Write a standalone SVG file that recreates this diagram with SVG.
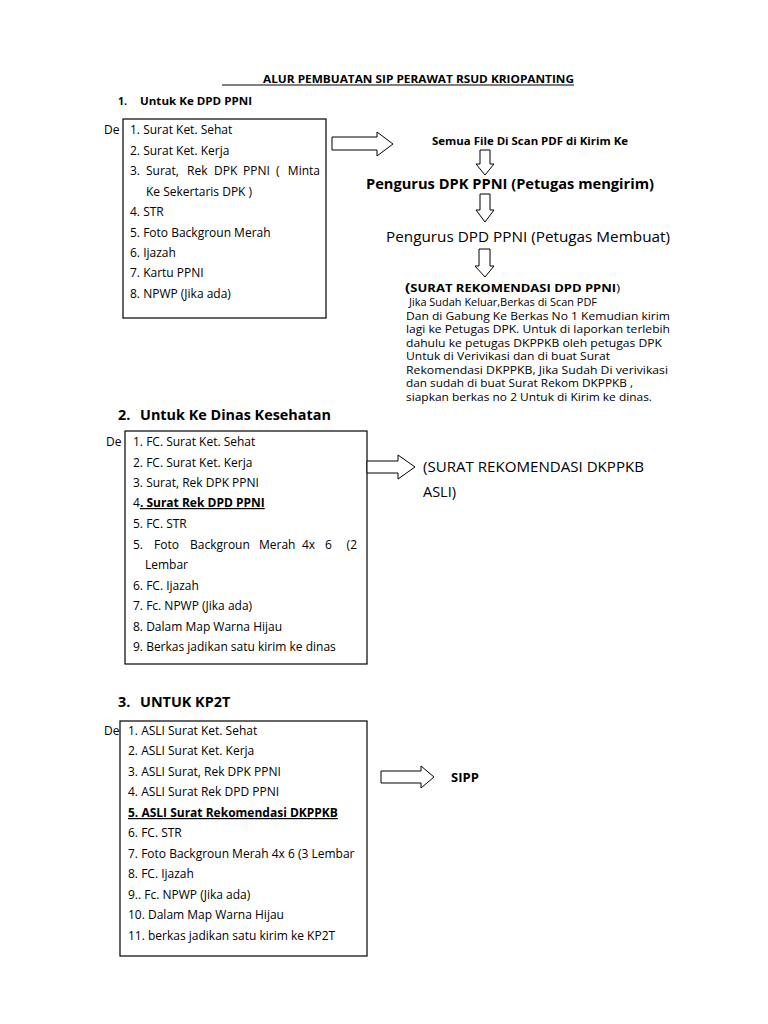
<svg xmlns="http://www.w3.org/2000/svg" width="768" height="1024" viewBox="0 0 768 1024">
<style>
text{font-family:"Open Sans","Liberation Sans",sans-serif;fill:#000}
.b{font-weight:bold}
.it{font-size:12px}
.p{font-size:11px}
.box{fill:#fff;stroke:#000;stroke-width:1.2}
.arr{fill:#fff;stroke:#000;stroke-width:1}
</style>
<rect width="768" height="1024" fill="#fff"/>
<g id="title">
<text x="263" y="83" class="b" font-size="10.5" textLength="311" lengthAdjust="spacingAndGlyphs">ALUR PEMBUATAN SIP PERAWAT RSUD KRIOPANTING</text>
<line x1="222" y1="85" x2="574" y2="85" stroke="#000" stroke-width="1"/>
</g>
<g id="h1">
<text x="118" y="105" class="b" font-size="10.5">1.</text>
<text x="140" y="105" class="b" font-size="10.5" textLength="112" lengthAdjust="spacingAndGlyphs">Untuk Ke DPD PPNI</text>
</g>
<g id="box1">
<text x="104" y="134" class="it">De</text>
<rect class="box" x="123" y="119" width="203" height="199"/>
<text x="130" y="134" class="it">1. Surat Ket. Sehat</text>
<text x="130" y="155" class="it">2. Surat Ket. Kerja</text>
<text y="175" class="it"><tspan x="130">3.</tspan><tspan x="146">Surat,</tspan><tspan x="187">Rek</tspan><tspan x="214">DPK</tspan><tspan x="243">PPNI</tspan><tspan x="276">(</tspan></text>
<text x="320" y="175" class="it" text-anchor="end">Minta</text>
<text x="146" y="196" class="it">Ke Sekertaris DPK )</text>
<text x="130" y="216" class="it">4. STR</text>
<text x="130" y="237" class="it">5. Foto Backgroun Merah</text>
<text x="130" y="257" class="it">6. Ijazah</text>
<text x="130" y="277" class="it">7. Kartu PPNI</text>
<text x="130" y="298" class="it">8. NPWP (Jika ada)</text>
</g>
<g id="flow1">
<text x="432" y="145" class="b" font-size="10" textLength="196" lengthAdjust="spacingAndGlyphs">Semua File Di Scan PDF di Kirim Ke</text>
<text x="366" y="189" class="b" font-size="14" textLength="288" lengthAdjust="spacingAndGlyphs">Pengurus DPK PPNI (Petugas mengirim)</text>
<text x="386" y="242" font-size="14" textLength="284" lengthAdjust="spacingAndGlyphs">Pengurus DPD PPNI (Petugas Membuat)</text>
</g>
<g id="note1">
<text x="405" y="292" class="b" font-size="10.3" textLength="215" lengthAdjust="spacingAndGlyphs"><tspan font-size="12.5">(</tspan>SURAT REKOMENDASI DPD PPNI<tspan font-weight="normal">)</tspan></text>
<text x="409" y="306" class="p" textLength="188" lengthAdjust="spacingAndGlyphs">Jika Sudah Keluar,Berkas di Scan PDF</text>
<text x="406" y="320" class="p" textLength="264" lengthAdjust="spacingAndGlyphs">Dan di  Gabung Ke Berkas No 1 Kemudian kirim</text>
<text x="406" y="333" class="p" textLength="264" lengthAdjust="spacingAndGlyphs">lagi ke Petugas DPK. Untuk di laporkan terlebih</text>
<text x="406" y="347" class="p" textLength="256" lengthAdjust="spacingAndGlyphs">dahulu ke petugas DKPPKB oleh petugas  DPK</text>
<text x="406" y="360" class="p" textLength="204" lengthAdjust="spacingAndGlyphs">Untuk di Verivikasi dan di buat Surat</text>
<text x="406" y="374" class="p" textLength="262" lengthAdjust="spacingAndGlyphs">Rekomendasi DKPPKB, Jika Sudah Di verivikasi</text>
<text x="406" y="387" class="p" textLength="227" lengthAdjust="spacingAndGlyphs">dan sudah di buat Surat Rekom DKPPKB  ,</text>
<text x="406" y="401" class="p" textLength="246" lengthAdjust="spacingAndGlyphs">siapkan berkas no 2 Untuk di Kirim ke dinas.</text>
</g>
<g id="h2">
<text x="118" y="420" class="b" font-size="14.4">2.</text>
<text x="140" y="420" class="b" font-size="14.4">Untuk Ke Dinas Kesehatan</text>
</g>
<g id="box2">
<text x="106" y="446" class="it">De</text>
<rect class="box" x="125" y="431" width="242" height="233"/>
<text x="133" y="446" class="it">1. FC. Surat Ket. Sehat</text>
<text x="133" y="467" class="it">2. FC. Surat Ket. Kerja</text>
<text x="133" y="487" class="it">3. Surat, Rek DPK PPNI</text>
<text x="133" y="507" class="it">4<tspan class="b" text-decoration="underline">. Surat Rek DPD PPNI</tspan></text>
<text x="133" y="528" class="it">5. FC. STR</text>
<text y="549" class="it"><tspan x="133">5.</tspan><tspan x="154">Foto</tspan><tspan x="190">Backgroun</tspan><tspan x="259">Merah</tspan><tspan x="302">4x</tspan><tspan x="325">6</tspan></text>
<text x="357" y="549" class="it" text-anchor="end">(2</text>
<text x="145" y="569" class="it">Lembar</text>
<text x="133" y="590" class="it">6. FC. Ijazah</text>
<text x="133" y="610" class="it">7. Fc. NPWP (Jika ada)</text>
<text x="133" y="631" class="it">8. Dalam Map Warna Hijau</text>
<text x="133" y="651" class="it">9. Berkas jadikan satu kirim ke dinas</text>
</g>
<g id="res2">
<text x="423" y="472" font-size="14.5" textLength="221" lengthAdjust="spacingAndGlyphs">(SURAT REKOMENDASI DKPPKB</text>
<text x="423" y="497" font-size="14.5">ASLI)</text>
</g>
<g id="h3">
<text x="118" y="707" class="b" font-size="14.4">3.</text>
<text x="140" y="707" class="b" font-size="14.4">UNTUK KP2T</text>
</g>
<g id="box3">
<text x="104" y="735" class="it">De</text>
<rect class="box" x="120" y="721" width="247" height="235"/>
<text x="128" y="735" class="it">1. ASLI Surat Ket. Sehat</text>
<text x="128" y="755" class="it">2. ASLI Surat Ket. Kerja</text>
<text x="128" y="776" class="it">3. ASLI Surat, Rek DPK PPNI</text>
<text x="128" y="796" class="it">4. ASLI Surat Rek DPD PPNI</text>
<text x="128" y="817" class="it b" text-decoration="underline">5. ASLI Surat Rekomendasi DKPPKB</text>
<text x="128" y="837" class="it">6. FC. STR</text>
<text x="128" y="858" class="it">7. Foto Backgroun Merah 4x 6 (3 Lembar</text>
<text x="128" y="878" class="it">8. FC. Ijazah</text>
<text x="128" y="899" class="it">9.. Fc. NPWP (Jika ada)</text>
<text x="128" y="919" class="it">10. Dalam Map Warna Hijau</text>
<text x="128" y="940" class="it">11. berkas jadikan satu kirim ke KP2T</text>
</g>
<g id="res3">
<text x="451" y="782" class="b" font-size="13">SIPP</text>
</g>
<g id="connectors">
<polygon class="arr" points="332,137 377,137 377,132 393,144 377,156 377,150 332,150"/>
<polygon class="arr" points="480,150 490,150 490,164 494,164 485,175 476,164 480,164"/>
<polygon class="arr" points="480,194 490,194 490,210 494,210 485,222 476,210 480,210"/>
<polygon class="arr" points="479,249 490,249 490,266 494,266 485,277 475,266 479,266"/>
<polygon class="arr" points="367,461 398,461 398,455 415,467 398,479 398,473 367,473"/>
<polygon class="arr" points="381,771 421,771 421,766 434,777 421,788 421,783 381,783"/>
</g>
</svg>
